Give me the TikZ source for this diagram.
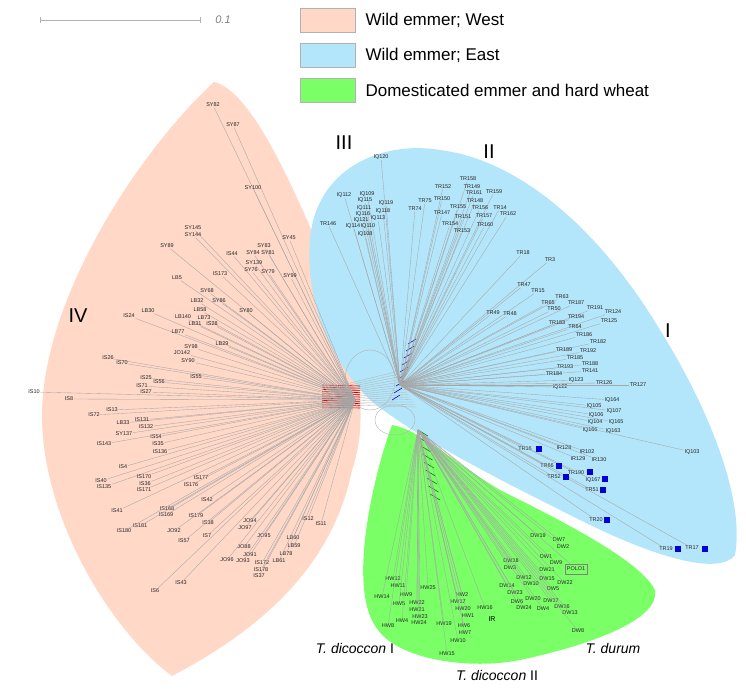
\documentclass[tikz,border=0pt]{standalone}
\usepackage{fontspec}
\setmainfont{Liberation Sans}
\newcommand\lbw[3]{\node[lb] (#3) at (#1,#2) {#3}; \draw[edge] (hw) -- (#3);}
\newcommand\lbe[3]{\node[lb] (#3) at (#1,#2) {#3}; \draw[edge] (he) -- (#3);}
\newcommand\lbs[3]{\node[lb] (#3) at (#1,#2) {#3}; \draw[edge] (hs) -- (#3);}
\newcommand\sqm[3]{\node[sqb] (sq#3) at (#1,#2) {};}
\begin{document}
\begin{tikzpicture}[x=1pt,y=-1pt,
 lb/.style={font=\fontsize{5.5}{6}\selectfont,inner sep=0.6pt,text=black!85},
 edge/.style={draw=gray!70,line width=0.35pt},
 sqb/.style={fill=blue!85!black,minimum size=6pt,inner sep=0pt},
 big/.style={font=\fontsize{17}{19}\selectfont,anchor=west},
 roman/.style={font=\fontsize{20}{22}\selectfont},
 ital/.style={font=\fontsize{14}{16}\selectfont\itshape}]
\useasboundingbox (0,0) rectangle (746,696);
% blobs
\fill[orange!60!red!22!white] (214,82) .. controls (140,150) and (40,300) .. (42,420)
 .. controls (44,520) and (110,630) .. (172,676) .. controls (240,640) and (330,580) .. (352,470)
 .. controls (370,420) and (360,340) .. (320,250) .. controls (290,180) and (250,90) .. (214,82) -- cycle;
\fill[cyan!30!white] (310,240) .. controls (315,170) and (380,140) .. (440,150)
 .. controls (520,160) and (600,230) .. (660,330) .. controls (710,410) and (745,500) .. (735,555)
 .. controls (720,575) and (660,560) .. (580,520) .. controls (500,480) and (420,440) .. (370,400)
 .. controls (330,360) and (305,300) .. (310,240) -- cycle;
\fill[green!55!white!90!lime] (392,425) .. controls (375,470) and (345,590) .. (378,630)
 .. controls (400,660) and (470,670) .. (520,660) .. controls (590,645) and (660,620) .. (655,590)
 .. controls (640,560) and (560,520) .. (500,490) .. controls (450,460) and (420,430) .. (392,425) -- cycle;
% legend
\fill[orange!60!red!22!white] (300,8) rectangle (355,32); \draw[gray!60] (300,8) rectangle (355,32);
\fill[cyan!30!white] (300,43) rectangle (355,67); \draw[gray!60] (300,43) rectangle (355,67);
\fill[green!55!white!90!lime] (300,78) rectangle (355,102); \draw[gray!60] (300,78) rectangle (355,102);
\node[big] (l1) at (362,20) {Wild emmer; West};
\node[big] (l2) at (362,55) {Wild emmer; East};
\node[big] (l3) at (362,90) {Domesticated emmer and hard wheat};
\coordinate (sb1) at (40,20); \coordinate (sb2) at (200,20);
\draw[gray!60,line width=0.6pt] (sb1) -- (sb2);
\draw[gray!60] (40,17) -- (40,23) (200,17) -- (200,23);
\node[font=\fontsize{11}{12}\selectfont\itshape,text=gray] (sbl) at (223,20) {0.1};
% hubs
\coordinate (hw) at (355,400);
\coordinate (he) at (400,385);
\coordinate (hs) at (418,430);
% central network
\foreach \i in {0,...,14}{\draw[gray!60,line width=0.3pt] (330+\i*0.8,388+\i*1.2) -- (395+\i*1.5,372+\i*2.5);}
\foreach \i in {0,...,10}{\draw[red!80!black,line width=0.6pt] (322,385+\i*2.2) -- (360,386+\i*2.2);}
\foreach \i in {0,...,8}{\draw[blue!80!black,line width=0.6pt] (392+\i*2,400-\i*7) -- (400+\i*2,395-\i*7);}
\foreach \i in {0,...,8}{\draw[green!50!black,line width=0.6pt] (418+\i*1.5,430+\i*8) -- (428+\i*1.5,436+\i*8);}
\draw[gray!60] (370,380) ellipse (25 and 30);
\draw[gray!60] (395,420) ellipse (20 and 15);
% West labels
\lbw{213}{105}{SY82}\lbw{233}{125}{SY87}\lbw{253}{188}{SY100}\lbw{193}{228}{SY145}\lbw{193}{235}{SY144}
\lbw{167}{246}{SY89}\lbw{264}{246}{SY83}\lbw{289}{238}{SY45}\lbw{253}{253}{SY84}\lbw{268}{253}{SY81}
\lbw{232}{254}{IS44}\lbw{254}{263}{SY139}\lbw{251}{270}{SY76}\lbw{268}{272}{SY79}\lbw{290}{276}{SY99}
\lbw{220}{274}{IS173}\lbw{177}{278}{LB5}\lbw{207}{291}{SY68}\lbw{197}{301}{LB32}\lbw{219}{301}{SY86}
\lbw{246}{311}{SY80}\lbw{200}{310}{LB58}\lbw{148}{311}{LB30}\lbw{129}{316}{IS24}\lbw{183}{317}{LB140}
\lbw{204}{318}{LB73}\lbw{195}{324}{LB31}\lbw{212}{324}{IS28}\lbw{178}{332}{LB77}\lbw{222}{344}{LB29}
\lbw{191}{347}{SY98}\lbw{182}{353}{JO142}\lbw{188}{361}{SY90}\lbw{108}{358}{IS26}\lbw{122}{363}{IS70}
\lbw{196}{377}{IS55}\lbw{146}{378}{IS25}\lbw{159}{382}{IS56}\lbw{142}{386}{IS71}\lbw{146}{392}{IS27}
\lbw{34}{392}{IS10}\lbw{69}{399}{IS8}\lbw{112}{410}{IS13}\lbw{94}{415}{IS72}\lbw{123}{423}{LB33}
\lbw{142}{420}{IS131}\lbw{146}{427}{IS132}\lbw{124}{434}{SY137}\lbw{156}{437}{IS54}\lbw{104}{444}{IS143}
\lbw{158}{444}{IS35}\lbw{160}{452}{IS136}\lbw{123}{467}{IS4}\lbw{101}{481}{IS40}\lbw{104}{487}{IS135}
\lbw{144}{477}{IS170}\lbw{145}{484}{IS36}\lbw{144}{490}{IS171}\lbw{201}{478}{IS177}\lbw{191}{485}{IS176}
\lbw{207}{500}{IS42}\lbw{117}{511}{IS41}\lbw{167}{509}{IS168}\lbw{166}{515}{IS169}\lbw{196}{516}{IS179}
\lbw{140}{526}{IS181}\lbw{124}{531}{IS180}\lbw{174}{531}{JO92}\lbw{208}{523}{IS38}\lbw{184}{541}{IS57}
\lbw{207}{536}{IS7}\lbw{250}{521}{JO94}\lbw{245}{528}{JO97}\lbw{264}{536}{JO95}\lbw{308}{519}{IS12}
\lbw{321}{524}{IS11}\lbw{293}{538}{LB60}\lbw{294}{546}{LB59}\lbw{286}{554}{LB78}\lbw{279}{561}{LB61}
\lbw{244}{547}{JO88}\lbw{250}{555}{JO91}\lbw{227}{560}{JO96}\lbw{243}{561}{JO93}\lbw{262}{563}{IS172}
\lbw{261}{570}{IS178}\lbw{259}{576}{IS37}\lbw{181}{583}{IS43}\lbw{155}{591}{IS6}
% East labels
\lbe{381}{157}{IQ120}\lbe{468}{179}{TR158}\lbe{443}{187}{TR152}\lbe{472}{187}{TR149}\lbe{474}{193}{TR161}
\lbe{494}{192}{TR159}\lbe{344}{195}{IQ112}\lbe{367}{194}{IQ109}\lbe{365}{200}{IQ115}\lbe{386}{203}{IQ119}
\lbe{425}{201}{TR75}\lbe{442}{199}{TR150}\lbe{475}{201}{TR148}\lbe{364}{208}{IQ111}\lbe{383}{211}{IQ118}
\lbe{415}{209}{TR74}\lbe{458}{207}{TR155}\lbe{480}{208}{TR156}\lbe{500}{208}{TR14}\lbe{363}{214}{IQ116}
\lbe{442}{213}{TR147}\lbe{508}{214}{TR162}\lbe{361}{220}{IQ121}\lbe{378}{218}{IQ113}\lbe{463}{217}{TR151}
\lbe{484}{216}{TR157}\lbe{328}{224}{TR146}\lbe{353}{226}{IQ114}\lbe{368}{226}{IQ110}\lbe{450}{224}{TR154}
\lbe{485}{225}{TR160}\lbe{365}{234}{IQ108}\lbe{462}{231}{TR153}\lbe{523}{253}{TR18}\lbe{550}{260}{TR3}
\lbe{524}{285}{TR47}\lbe{538}{291}{TR15}\lbe{562}{297}{TR63}\lbe{548}{303}{TR65}\lbe{576}{303}{TR187}
\lbe{554}{309}{TR50}\lbe{595}{308}{TR191}\lbe{613}{312}{TR124}\lbe{493}{313}{TR49}\lbe{510}{314}{TR48}
\lbe{576}{317}{TR194}\lbe{557}{323}{TR183}\lbe{609}{321}{TR125}\lbe{575}{327}{TR64}\lbe{584}{335}{TR186}
\lbe{598}{342}{TR182}\lbe{564}{350}{TR189}\lbe{588}{351}{TR192}\lbe{575}{358}{TR185}\lbe{565}{367}{TR193}
\lbe{590}{364}{TR188}\lbe{590}{371}{TR141}\lbe{554}{374}{TR184}\lbe{576}{380}{IQ123}\lbe{560}{387}{IQ122}
\lbe{604}{383}{TR126}\lbe{638}{385}{TR127}\lbe{612}{400}{IQ164}\lbe{594}{406}{IQ105}\lbe{614}{411}{IQ107}
\lbe{596}{415}{IQ106}\lbe{595}{422}{IQ104}\lbe{616}{422}{IQ165}\lbe{590}{430}{IQ166}\lbe{613}{431}{IQ163}
\lbe{692}{452}{IQ103}\lbe{525}{449}{TR16}\lbe{564}{448}{IR128}\lbe{587}{452}{IR102}\lbe{578}{459}{IR129}
\lbe{599}{460}{IR130}\lbe{547}{466}{TR66}\lbe{576}{473}{TR190}\lbe{554}{477}{TR52}\lbe{593}{480}{IQ167}
\lbe{592}{490}{TR51}\lbe{596}{520}{TR20}\lbe{666}{549}{TR19}\lbe{692}{548}{TR17}
\sqm{539}{449}{1}\sqm{559}{466}{2}\sqm{590}{472}{3}\sqm{566}{477}{4}\sqm{605}{479}{5}\sqm{603}{490}{6}
\sqm{607}{520}{7}\sqm{678}{549}{8}\sqm{705}{549}{9}
% South labels
\lbs{538}{536}{DW19}\lbs{559}{540}{DW7}\lbs{563}{547}{DW2}\lbs{546}{557}{DW1}\lbs{556}{563}{DW9}
\lbs{511}{561}{DW18}\lbs{510}{568}{DW3}\lbs{547}{570}{DW21}\lbs{524}{578}{DW12}\lbs{547}{579}{DW15}
\lbs{531}{584}{DW10}\lbs{565}{583}{DW22}\lbs{507}{586}{DW14}\lbs{553}{589}{DW5}\lbs{515}{593}{DW23}
\lbs{533}{599}{DW20}\lbs{551}{601}{DW17}\lbs{517}{602}{DW6}\lbs{524}{608}{DW24}\lbs{543}{609}{DW4}
\lbs{562}{607}{DW16}\lbs{570}{613}{DW13}\lbs{578}{631}{DW8}
\node[lb,draw=gray,inner sep=2pt,minimum height=10pt] (POLO1) at (576,569) {POLO1}; \draw[edge] (hs) -- (POLO1);
\lbs{393}{579}{HW12}\lbs{398}{586}{HW11}\lbs{428}{588}{HW25}\lbs{382}{597}{HW14}\lbs{406}{595}{HW9}
\lbs{462}{595}{HW2}\lbs{399}{604}{HW5}\lbs{417}{603}{HW22}\lbs{458}{602}{HW17}\lbs{417}{610}{HW21}
\lbs{463}{609}{HW20}\lbs{485}{608}{HW16}\lbs{420}{617}{HW23}\lbs{468}{616}{HW1}\lbs{402}{621}{HW4}
\lbs{419}{623}{HW24}\lbs{444}{624}{HW19}\lbs{388}{626}{HW8}\lbs{464}{626}{HW6}\lbs{465}{633}{HW7}
\lbs{458}{641}{HW10}\lbs{447}{654}{HW15}
\node[font=\fontsize{7}{8}\selectfont] (IR) at (492,619) {IR};
% group labels
\node[roman] (g4) at (78,316) {IV};
\node[roman] (g3) at (344,143) {III};
\node[roman] (g2) at (489,152) {II};
\node[roman] (g1) at (668,331) {I};
\node[ital] (t1) at (355,648) {T. dicoccon \textup{I}};
\node[ital] (t2) at (497,675) {T. dicoccon \textup{II}};
\node[ital] (t3) at (613,648) {T. durum};
\end{tikzpicture}
\end{document}
